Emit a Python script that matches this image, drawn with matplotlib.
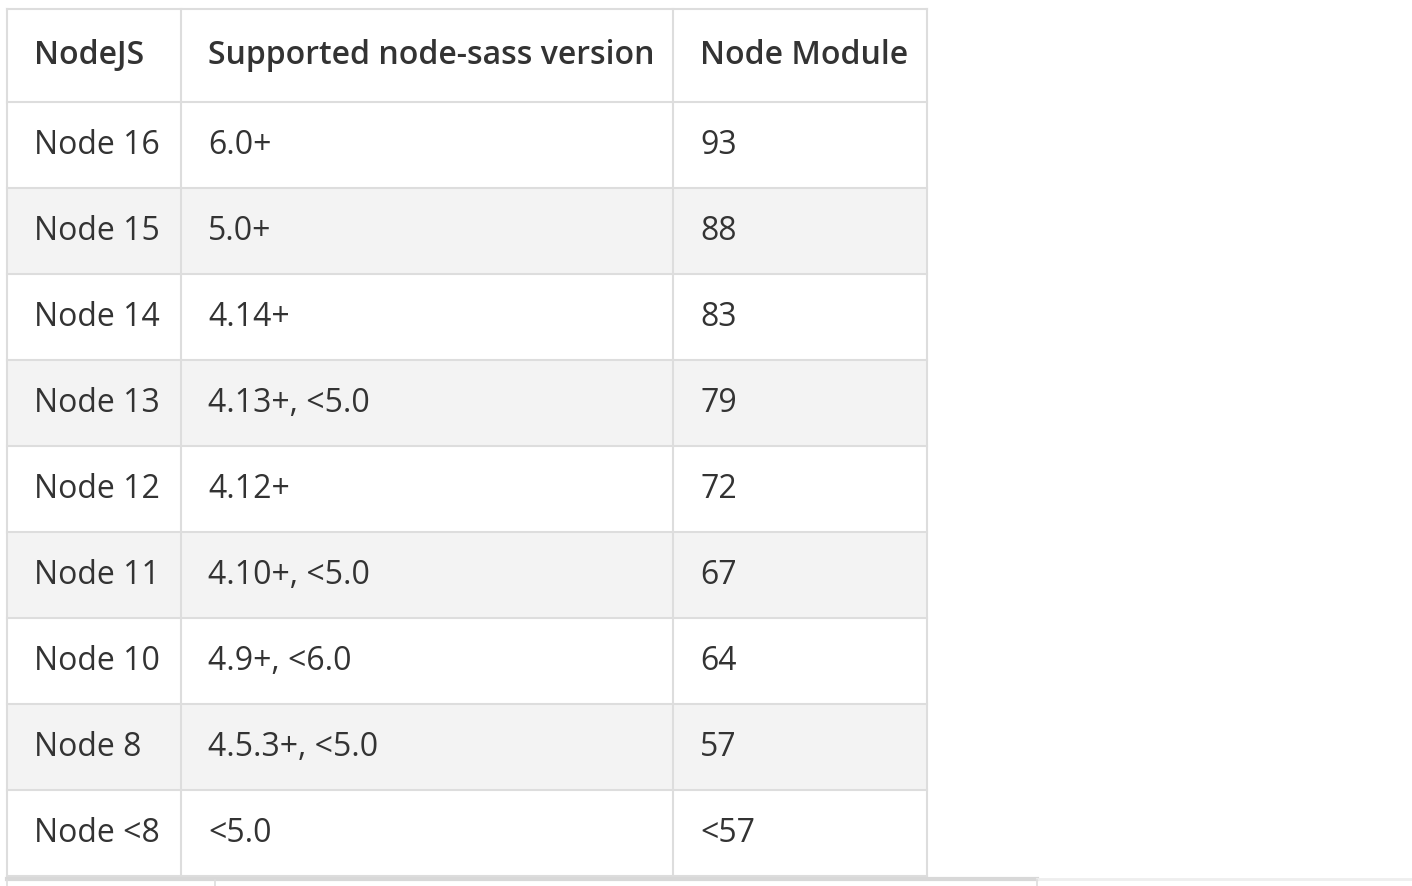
import matplotlib
matplotlib.use("Agg")
import matplotlib.pyplot as plt
from matplotlib.patches import Rectangle

headers = ["NodeJS", "Supported node-sass version", "Node Module"]
nodejs = ["Node 16", "Node 15", "Node 14", "Node 13", "Node 12", "Node 11", "Node 10", "Node 8", "Node <8"]
sass = ["6.0+", "5.0+", "4.14+", "4.13+, <5.0", "4.12+", "4.10+, <5.0", "4.9+, <6.0", "4.5.3+, <5.0", "<5.0"]
module = ["93", "88", "83", "79", "72", "67", "64", "57", "<57"]

W, H = 1412, 886
fig = plt.figure(figsize=(W/100, H/100), dpi=100)
ax = fig.add_axes([0, 0, 1, 1])
ax.set_xlim(0, W); ax.set_ylim(H, 0); ax.axis("off")

colx = [7, 181, 673, 927]
rowy = [9, 102] + [102 + 86*(i+1) for i in range(len(nodejs))]
border = "#dddddd"
font = "Open Sans"

for i in range(len(nodejs)):
    if i % 2 == 1:
        ax.add_patch(Rectangle((colx[0], rowy[i+1]), colx[-1]-colx[0], 86, color="#f3f3f3", lw=0))

for y in rowy:
    ax.plot([colx[0], colx[-1]], [y, y], color=border, lw=1.5)
for x in colx:
    ax.plot([x, x], [rowy[0], rowy[-1]], color=border, lw=1.5)

# bottom remnant lines
ax.plot([7, 1037], [879, 879], color="#d8d8d8", lw=3)
ax.plot([1037, 1412], [879, 879], color="#eeeeee", lw=2)
for x in [7, 215, 1037]:
    ax.plot([x, x], [880, 886], color=border, lw=1.2)

tc = "#333333"
for j, h in enumerate(headers):
    ax.text(colx[j]+27, (rowy[0]+rowy[1])/2, h, fontsize=23, fontweight="semibold",
            family=font, color=tc, va="center", ha="left")
for i in range(len(nodejs)):
    yc = (rowy[i+1]+rowy[i+2])/2
    for j, v in enumerate([nodejs[i], sass[i], module[i]]):
        ax.text(colx[j]+27, yc, v, fontsize=23, family=font, color=tc, va="center", ha="left")

fig.savefig("out.png", dpi=100)
